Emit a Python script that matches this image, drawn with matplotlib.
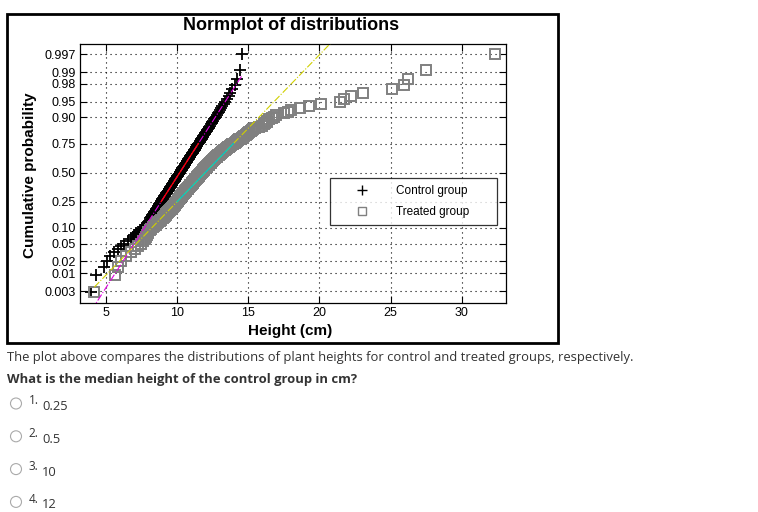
import numpy as np
import matplotlib
matplotlib.use("Agg")
import matplotlib.pyplot as plt
from matplotlib.patches import Rectangle, Ellipse
from statistics import NormalDist

# sorted plant heights (cm)
control = [4.00, 4.35, 4.85, 5.10, 5.30, 5.60, 5.85, 6.05, 6.30, 6.55, 6.75, 6.90, 7.00, 7.15, 7.30, 7.40, 7.55, 7.70,
           7.80, 7.86, 7.91, 7.97, 8.03, 8.08, 8.13, 8.18, 8.23, 8.28, 8.32, 8.37, 8.41, 8.45, 8.50, 8.54, 8.58, 8.62,
           8.66, 8.70, 8.74, 8.77, 8.81, 8.85, 8.89, 8.92, 8.96, 8.99, 9.03, 9.06, 9.09, 9.13, 9.16, 9.19, 9.23, 9.26,
           9.29, 9.32, 9.35, 9.38, 9.42, 9.45, 9.48, 9.51, 9.54, 9.57, 9.60, 9.63, 9.66, 9.69, 9.72, 9.75, 9.78, 9.81,
           9.84, 9.86, 9.89, 9.93, 9.95, 9.98, 10.01, 10.04, 10.07, 10.10, 10.13, 10.16, 10.19,
           10.21, 10.24, 10.27, 10.30, 10.33, 10.36, 10.39, 10.42, 10.45, 10.47, 10.51, 10.54, 10.56, 10.59, 10.62,
           10.65, 10.68, 10.71, 10.74, 10.77, 10.80, 10.83, 10.86, 10.89, 10.92, 10.95, 10.98, 11.02, 11.05, 11.08,
           11.11, 11.14, 11.17, 11.21, 11.24, 11.27, 11.31, 11.34, 11.37, 11.41, 11.44, 11.48, 11.51, 11.55, 11.59,
           11.63, 11.66, 11.70, 11.74, 11.78, 11.82, 11.86, 11.90, 11.95, 11.99, 12.03, 12.08, 12.12, 12.17, 12.22,
           12.27, 12.32, 12.37, 12.43, 12.49, 12.54, 12.60, 12.67, 12.73, 12.80, 12.87, 12.95, 13.03, 13.11, 13.20,
           13.30, 13.40, 13.52, 13.65, 13.75, 13.90, 14.05, 14.25, 14.45, 14.60]
treated = [4.20, 5.65, 5.85, 6.10, 6.45, 6.75, 7.05, 7.30, 7.45, 7.60, 7.75, 7.85, 7.90, 7.95, 8.00, 8.10, 8.20, 8.30,
           8.40, 8.50, 8.60, 8.70, 8.80, 8.90, 9.00, 9.08,
           9.15, 9.21, 9.27, 9.34, 9.40, 9.46, 9.52, 9.58, 9.64, 9.69, 9.75, 9.80, 9.84, 9.88, 9.93, 9.97, 10.01, 10.05,
           10.09, 10.13, 10.17, 10.22, 10.25, 10.30, 10.34, 10.38, 10.42, 10.47, 10.51, 10.55, 10.59, 10.63, 10.67,
           10.71, 10.75, 10.79, 10.83, 10.87, 10.91, 10.95, 10.99, 11.03, 11.07, 11.11, 11.15, 11.18, 11.22, 11.26,
           11.30, 11.34, 11.38, 11.42, 11.46, 11.50, 11.54, 11.58, 11.61, 11.65, 11.69, 11.73, 11.77, 11.81, 11.84,
           11.88, 11.92, 11.96, 12.00, 12.04, 12.08, 12.13, 12.18, 12.22, 12.27, 12.31, 12.36, 12.40, 12.45, 12.49,
           12.54, 12.58, 12.63, 12.69, 12.74, 12.79, 12.85, 12.91, 12.96, 13.02, 13.07, 13.13, 13.18, 13.24, 13.30,
           13.37, 13.44, 13.52, 13.59, 13.66, 13.74, 13.82, 13.89, 13.97, 14.05, 14.13, 14.21, 14.30, 14.38, 14.47,
           14.56, 14.64, 14.73, 14.82, 14.90, 14.99, 15.08, 15.18, 15.27, 15.37,
           15.45, 15.75, 16.00, 16.10, 16.20, 16.30, 16.36, 16.50, 16.70, 16.80, 16.94, 17.50, 17.83, 17.99, 18.65,
           19.28, 20.10, 21.45, 21.70, 22.20, 23.07, 25.13, 25.95, 26.20, 27.50, 32.35]

prob_ticks = [0.003, 0.01, 0.02, 0.05, 0.10, 0.25, 0.50, 0.75, 0.90, 0.95, 0.98, 0.99, 0.997]
prob_labels = ["0.003", "0.01", "0.02", "0.05", "0.10", "0.25", "0.50", "0.75", "0.90", "0.95", "0.98", "0.99", "0.997"]
x_ticks = [5, 10, 15, 20, 25, 30]

question = "What is the median height of the control group in cm?"
intro = "The plot above compares the distributions of plant heights for control and treated groups, respectively."
options = ["0.25", "0.5", "10", "12"]

nd = NormalDist()
W, H = 758, 512
plt.rcParams['font.family'] = ['Liberation Sans', 'DejaVu Sans']

fig = plt.figure(figsize=(W / 100, H / 100), dpi=100)


def fx(x):
    return x / W


def fy(y):
    return 1 - y / H


ax = fig.add_axes([fx(80), fy(303), fx(506) - fx(80), fy(44) - fy(303)])


def normplot(data, mcolor, marker, msize, mew, qcolor, lcolor):
    x = np.sort(np.array(data))
    n = len(x)
    z = np.array([nd.inv_cdf((i - 0.5) / n) for i in range(1, n + 1)])
    pts, = ax.plot(x, z, linestyle='none', marker=marker, ms=msize, mec=mcolor, mfc='none', mew=mew, zorder=3)
    q1, q3 = np.percentile(x, [25, 75], method='hazen')
    z1, z3 = nd.inv_cdf(0.25), nd.inv_cdf(0.75)
    slope = (z3 - z1) / (q3 - q1)
    xe = np.array([x.min(), x.max()])
    ax.plot(xe, z1 + slope * (xe - q1), linestyle='-.', color=lcolor, lw=0.8, zorder=4)
    ax.plot([q1, q3], [z1, z3], linestyle='-', color=qcolor, lw=0.9, zorder=5)
    return pts


h1 = normplot(control, 'black', '+', 9, 1.3, 'red', '#e000e0')
h2 = normplot(treated, '#808080', 's', 7.5, 1.4, '#00c8c8', '#d0d000')

ax.set_xlim(3.2, 33.1)
ax.set_ylim(-3.02, 2.98)
ax.set_xticks(x_ticks)
ax.set_yticks([nd.inv_cdf(p) for p in prob_ticks])
ax.set_yticklabels(prob_labels)
ax.tick_params(direction='in', length=5, width=0.8, labelsize=9, top=True, right=True, pad=3)
ax.grid(True, color='black', linestyle=(0, (1, 3.5)), lw=0.8)
for s in ax.spines.values():
    s.set_linewidth(0.9)

leg = ax.legend([h1, h2], ["Control group", "Treated group"], loc='lower left',
                bbox_to_anchor=(0.587, 0.30, 0.392, 0.18), mode='expand', numpoints=1,
                fontsize=8.5, frameon=True, fancybox=False, borderpad=0.6, labelspacing=0.75,
                handlelength=4.2, handletextpad=0.8, borderaxespad=0)
leg.get_frame().set_edgecolor('black')
leg.get_frame().set_linewidth(0.9)
leg.legend_handles[0].set_markersize(7)
leg.legend_handles[0].set_markeredgewidth(1.0)
leg.legend_handles[1].set_markersize(6)
leg.legend_handles[1].set_markeredgewidth(1.0)

fig.text(fx(291), fy(25), "Normplot of distributions", ha='center', va='center', fontsize=13, fontweight='bold')
fig.text(fx(290), fy(331), "Height (cm)", ha='center', va='center', fontsize=11, fontweight='bold')
fig.text(fx(30), fy(175), "Cumulative probability", ha='center', va='center', rotation=90,
         fontsize=11, fontweight='bold')

# outer box around the chart
fig.patches.append(Rectangle((fx(7), fy(343)), fx(558) - fx(7), fy(14) - fy(343), transform=fig.transFigure,
                             fill=False, edgecolor='black', lw=2))

# question text below
qfont = ['Open Sans', 'DejaVu Sans']
fig.text(fx(7), fy(358), intro, ha='left', va='center', fontsize=9.4, color='#333333', family=qfont)
fig.text(fx(7), fy(379), question, ha='left', va='center', fontsize=9.4, color='#333333',
         fontweight='bold', family=qfont)
for k, opt in enumerate(options):
    yc = 403.5 + k * 32.8
    fig.patches.append(Ellipse((fx(16), fy(yc)), 11 / W, 11 / H, transform=fig.transFigure, fill=False,
                               edgecolor='#aaaaaa', lw=0.8))
    fig.text(fx(28.5), fy(yc - 2.5), "%d." % (k + 1), ha='left', va='center', fontsize=8.5, color='#333333',
             family=qfont)
    fig.text(fx(42), fy(yc + 3), opt, ha='left', va='center', fontsize=9.3, color='#333333', family=qfont)

fig.savefig("out.png", dpi=100)
